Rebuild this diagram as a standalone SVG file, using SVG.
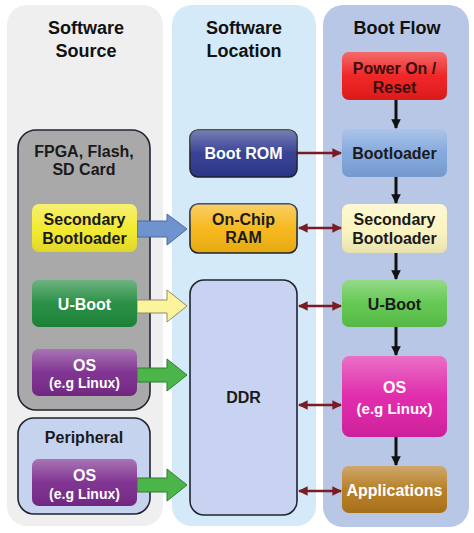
<svg xmlns="http://www.w3.org/2000/svg" width="474" height="533" viewBox="0 0 474 533">
<defs>
<style>
text{font-family:"Liberation Sans",Arial,sans-serif;font-weight:bold;text-anchor:middle}
.title{font-size:18px;fill:#111}
.t{font-size:16px}
.s{font-size:14px}
.dk{fill:#1a1a1a}
.wh{fill:#ffffff}
.lane{stroke:none}
.node{stroke:none}
.bord{stroke:#1e2430;stroke-width:1.6}
.flow{stroke:#111;stroke-width:3;fill:none;marker-end:url(#blk)}
.link{stroke:#7a1c22;stroke-width:2.4;fill:none}
</style>
<marker id="blk" viewBox="0 0 10 10" refX="9" refY="5" markerWidth="3.2" markerHeight="3.2" orient="auto" markerUnits="strokeWidth">
<path d="M0,0 L10,5 L0,10 Z" fill="#111"/>
</marker>
<marker id="rd" viewBox="0 0 10 10" refX="9" refY="5" markerWidth="4" markerHeight="4" orient="auto-start-reverse" markerUnits="strokeWidth">
<path d="M0,0 L10,5 L0,10 Z" fill="#7a1c22"/>
</marker>
<linearGradient id="gl" x1="0" y1="0" x2="0" y2="1">
<stop offset="0" stop-color="#fff" stop-opacity="0.35"/>
<stop offset="0.5" stop-color="#fff" stop-opacity="0.05"/>
<stop offset="1" stop-color="#000" stop-opacity="0.08"/>
</linearGradient>
</defs>

<g id="lanes">
<rect id="lane-source" class="lane" x="7" y="5" width="156" height="521" rx="20" fill="#efefef"/>
<rect id="lane-location" class="lane" x="172" y="5" width="144" height="521" rx="20" fill="#d4eaf8"/>
<rect id="lane-flow" class="lane" x="323" y="5" width="146" height="522" rx="20" fill="#b8c7e6"/>
<text class="title" x="86" y="34">Software</text>
<text class="title" x="86" y="57">Source</text>
<text class="title" x="244" y="34">Software</text>
<text class="title" x="244" y="57">Location</text>
<text class="title" x="397" y="34">Boot Flow</text>
</g>

<g id="fpga-group">
<rect class="bord" x="18" y="130" width="132" height="280" rx="18" fill="#a9a9a9"/>
<text class="t dk" x="84" y="157">FPGA, Flash,</text>
<text class="t dk" x="84" y="175">SD Card</text>
</g>
<g id="peripheral-group">
<rect class="bord" x="18" y="418" width="132" height="96" rx="16" fill="#c6d3ee"/>
<text class="t dk" x="84" y="443">Peripheral</text>
</g>

<g id="connectors">
<path d="M137,221 H167 V214 L187,229 L167,245 V237 H137 Z" fill="#6f93cf" stroke="#4c6a9c" stroke-width="1"/>
<path d="M137,300 H167 V290 L187,306 L167,322 V313 H137 Z" fill="#fcf49c" stroke="#8f8a60" stroke-width="1"/>
<path d="M137,368 H167 V359 L187,375 L167,391 V382 H137 Z" fill="#4cb54a" stroke="#2e7d30" stroke-width="1"/>
<path d="M137,478 H167 V469 L187,485 L167,501 V492 H137 Z" fill="#4cb54a" stroke="#2e7d30" stroke-width="1"/>
<line class="flow" x1="396" y1="100" x2="396" y2="128"/>
<line class="flow" x1="396" y1="177" x2="396" y2="203"/>
<line class="flow" x1="396" y1="253" x2="396" y2="279"/>
<line class="flow" x1="396" y1="327" x2="396" y2="355"/>
<line class="flow" x1="396" y1="437" x2="396" y2="465"/>
<line class="link" x1="297" y1="153" x2="341" y2="153" marker-end="url(#rd)"/>
<line class="link" x1="299" y1="228" x2="341" y2="228" marker-start="url(#rd)" marker-end="url(#rd)"/>
<line class="link" x1="299" y1="306" x2="341" y2="306" marker-start="url(#rd)" marker-end="url(#rd)"/>
<line class="link" x1="299" y1="405" x2="341" y2="405" marker-start="url(#rd)" marker-end="url(#rd)"/>
<line class="link" x1="299" y1="491" x2="341" y2="491" marker-start="url(#rd)" marker-end="url(#rd)"/>
</g>

<g id="src-secondary">
<rect class="node" x="32" y="204" width="105" height="48" rx="7" fill="#f2e928"/>
<rect x="32" y="204" width="105" height="48" rx="7" fill="url(#gl)"/>
<text class="t dk" x="84.5" y="225">Secondary</text>
<text class="t dk" x="84.5" y="244">Bootloader</text>
</g>
<g id="src-uboot">
<rect class="node" x="32" y="280" width="105" height="47" rx="7" fill="#1f8a3c"/>
<rect x="32" y="280" width="105" height="47" rx="7" fill="url(#gl)"/>
<text class="t wh" x="84.5" y="310">U-Boot</text>
</g>
<g id="src-os">
<rect class="node" x="32" y="349" width="105" height="47" rx="7" fill="#7a2a8c"/>
<rect x="32" y="349" width="105" height="47" rx="7" fill="url(#gl)"/>
<text class="t wh" x="84.5" y="371">OS</text>
<text class="s wh" x="84.5" y="388">(e.g Linux)</text>
</g>
<g id="periph-os">
<rect class="node" x="32" y="459" width="105" height="47" rx="7" fill="#7a2a8c"/>
<rect x="32" y="459" width="105" height="47" rx="7" fill="url(#gl)"/>
<text class="t wh" x="84.5" y="481">OS</text>
<text class="s wh" x="84.5" y="499">(e.g Linux)</text>
</g>

<g id="loc-bootrom">
<rect class="bord" x="190" y="130" width="107" height="47" rx="8" fill="#2e3990"/>
<rect x="190" y="130" width="107" height="47" rx="8" fill="url(#gl)"/>
<text class="t wh" x="243.5" y="159">Boot ROM</text>
</g>
<g id="loc-ocram">
<rect class="bord" x="190" y="204" width="107" height="49" rx="8" fill="#f6b512"/>
<rect x="190" y="204" width="107" height="49" rx="8" fill="url(#gl)"/>
<text class="t dk" x="243.5" y="225">On-Chip</text>
<text class="t dk" x="243.5" y="243">RAM</text>
</g>
<g id="loc-ddr">
<rect class="bord" x="190" y="280" width="107" height="235" rx="14" fill="#c7d3f0"/>
<text class="t dk" x="243.5" y="403">DDR</text>
</g>

<g id="flow-power">
<rect class="node" x="342" y="52" width="105" height="48" rx="7" fill="#ee1b1b"/>
<rect x="342" y="52" width="105" height="48" rx="7" fill="url(#gl)"/>
<text class="t" fill="#3a0d0d" x="394.5" y="74">Power On /</text>
<text class="t" fill="#3a0d0d" x="394.5" y="93">Reset</text>
</g>
<g id="flow-bootloader">
<rect class="node" x="342" y="129" width="105" height="48" rx="7" fill="#7ea5dc"/>
<rect x="342" y="129" width="105" height="48" rx="7" fill="url(#gl)"/>
<text class="t dk" x="394.5" y="159">Bootloader</text>
</g>
<g id="flow-secondary">
<rect class="node" x="342" y="204" width="105" height="49" rx="7" fill="#fbf4bd"/>
<rect x="342" y="204" width="105" height="49" rx="7" fill="url(#gl)"/>
<text class="t dk" x="394.5" y="225">Secondary</text>
<text class="t dk" x="394.5" y="244">Bootloader</text>
</g>
<g id="flow-uboot">
<rect class="node" x="342" y="280" width="105" height="47" rx="7" fill="#5cc64a"/>
<rect x="342" y="280" width="105" height="47" rx="7" fill="url(#gl)"/>
<text class="t dk" x="394.5" y="310">U-Boot</text>
</g>
<g id="flow-os">
<rect class="node" x="342" y="356" width="105" height="81" rx="8" fill="#df22a8"/>
<rect x="342" y="356" width="105" height="81" rx="8" fill="url(#gl)"/>
<text class="t wh" x="394.5" y="393">OS</text>
<text class="t wh" x="394.5" y="414" style="font-size:15px">(e.g Linux)</text>
</g>
<g id="flow-apps">
<rect class="node" x="342" y="466" width="105" height="47" rx="7" fill="#b4791c"/>
<rect x="342" y="466" width="105" height="47" rx="7" fill="url(#gl)"/>
<text class="t wh" x="394.5" y="496">Applications</text>
</g>
</svg>
